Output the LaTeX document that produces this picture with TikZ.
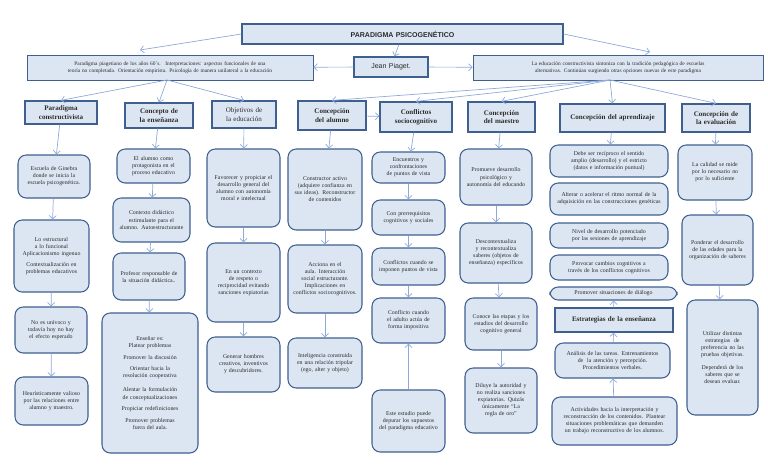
\documentclass[tikz,border=0pt]{standalone}
\usepackage{fontspec}
\usepackage[none]{hyphenat}
\setmainfont{Liberation Serif}
\setsansfont{Liberation Sans}
\usetikzlibrary{arrows.meta}
\definecolor{boxfill}{HTML}{DCE6F2}
\definecolor{boxline}{HTML}{3F5F8F}
\definecolor{arrcol}{HTML}{8EAADB}
\definecolor{txtcol}{HTML}{2B2B2B}
% box from pixel corners: name, x1, y1, x2, y2, text
\newcommand\bx[7][box]{\node[#1, minimum width={(#5-#3)*0.03cm}, minimum height={(#6-#4)*0.03cm},
  text width={(#5-#3)*0.03cm-9pt}] (#2) at ({(#3+#5)/2},{(#4+#6)/2}) {#7};}
\begin{document}
\begin{tikzpicture}[x=0.03cm, y=-0.03cm,
    box/.style={draw=boxline, line width=0.9pt, fill=boxfill, rounded corners=7pt,
      align=center, inner sep=1pt, text=txtcol, font=\fontsize{5}{6}\selectfont},
    flat/.style={box, rounded corners=0pt, line width=0.7pt, font=\fontsize{4.6}{6.4}\selectfont},
    head/.style={box, rounded corners=0pt, line width=1.1pt, font=\fontsize{6}{7.4}\selectfont\bfseries},
    arr/.style={draw=arrcol, line width=0.6pt, -{Straight Barb[length=3pt]}},
  ]
  \useasboundingbox (0,0) rectangle (768,466);

  % top row
  \bx[head]{title}{242}{24}{563}{44}{\sffamily PARADIGMA PSICOGENÉTICO}
  \bx[flat]{left}{27}{55}{313}{80}{Paradigma piagetiano de los años 60´s. \ Interpretaciones: aspectos funcionales de una teoría no completada. Orientación empirista. Psicología de manera unilateral a la educación}
  \bx[head]{piaget}{354}{57}{428}{77}{\sffamily\mdseries Jean Piaget.}
  \bx[flat]{right}{473}{55}{763}{80}{La educación constructivista sintoniza con la tradición pedagógica de escuelas alternativas. Continúan surgiendo otras opciones nuevas de este paradigma}
  \draw[arr] (title.west) -- (140,50);
  \draw[arr] (title.east) -- (650,52);
  \draw[arr] (title) -- (piaget);
  \draw[arr] (piaget) -- (left);
  \draw[arr] (piaget) -- (right);

  % headers
  \bx[head]{hpar}{25}{101}{97}{124}{Paradigma constructivista}
  \bx[head]{hcon}{125}{103}{193}{128}{Concepto de la enseñanza}
  \bx[head]{hobj}{212}{101}{276}{128}{\mdseries Objetivos de la educación}
  \bx[head]{halu}{298}{101}{366}{130}{Concepción del alumno}
  \bx[head]{hsoc}{380}{102}{452}{132}{Conflictos sociocognitivo}
  \bx[head]{hmae}{468}{102}{535}{132}{Concepción del maestro}
  \bx[head]{hapr}{560}{104}{665}{132}{Concepción del aprendizaje}
  \bx[head]{heva}{682}{104}{750}{132}{Concepción de la evaluación}
  \coordinate (lf) at (167,80);
  \coordinate (rf) at (610,80);
  \foreach \h in {hpar,hcon,hobj} \draw[arr] (lf) -- (\h.north);
  \foreach \h in {halu,hsoc,hmae,hapr,heva} \draw[arr] (rf) -- (\h.north);
  \draw[arr] (halu) -- (hsoc);

  % column 1
  \bx{a1}{18}{155}{90}{198}{Escuela de Ginebra donde se inicia la escuela psicogenética.}
  \bx{a2}{14}{220}{89}{292}{Lo estructural a lo funcional Aplicacionismo ingenuo\\[3pt]Contextualización en problemas educativos}
  \bx{a3}{15}{307}{87}{353}{No es unívoco y todavía hoy no hay el efecto esperado}
  \bx{a4}{15}{377}{88}{425}{Heurísticamente valioso por las relaciones entre alumno y maestro.}
  \draw[arr] (hpar) -- (a1);
  \draw[arr] (a1) -- (a2);
  \draw[arr] (a2) -- (a3);
  \draw[arr] (a3) -- (a4);

  % column 2
  \bx{b1}{117}{149}{190}{183}{El alumno como protagonista en el proceso educativo}
  \bx{b2}{113}{198}{190}{242}{Contexto didáctico estimulante para el alumno. Autoestructurante}
  \bx{b3}{113}{253}{185}{300}{Profesor responsable de la situación didáctica..}
  \bx{b4}{102}{313}{198}{453}{Enseñar es:\\Platear problemas\\[4pt]Promover la discusión\\[4pt]Orientar hacia la resolución cooperativa\\[6pt]Alentar la formulación de conceptualizaciones\\[4pt]Propiciar redefiniciones\\[4pt]Promover problemas fuera del aula.}
  \draw[arr] (hcon) -- (b1);
  \draw[arr] (b1) -- (b2);
  \draw[arr] (b2) -- (b3);
  \draw[arr] (b3) -- (b4);

  % column 3
  \bx{c1}{207}{149}{280}{227}{Favorecer y propiciar el desarrollo general del alumno con autonomía moral e intelectual}
  \bx{c2}{207}{243}{280}{322}{En un contexto de respeto o reciprocidad evitando sanciones expiatorias}
  \bx{c3}{207}{337}{280}{392}{Generar hombres creativos, inventivos y descubridores.}
  \draw[arr] (hobj) -- (c1);
  \draw[arr] (c1) -- (c2);
  \draw[arr] (c2) -- (c3);

  % column 4
  \bx{d1}{288}{149}{362}{230}{Constructor activo (adquiere confianza en sus ideas). Reconstructor de contenidos}
  \bx{d2}{288}{245}{362}{313}{Acciona en el aula. Interacción social estructurante. Implicaciones en conflictos sociocognitivos.}
  \bx{d3}{288}{338}{362}{388}{Inteligencia construida en una relación tripolar (ego, alter y objeto)}
  \draw[arr] (halu) -- (d1);
  \draw[arr] (d1) -- (d2);
  \draw[arr] (d2) -- (d3);

  % column 5
  \bx{e1}{372}{152}{445}{183}{Encuentros y confrontaciones de puntos de vista}
  \bx{e2}{372}{200}{445}{235}{Con prerrequisitos cognitivos y sociales}
  \bx{e3}{372}{248}{445}{285}{Conflictos cuando se imponen puntos de vista}
  \bx{e4}{372}{298}{445}{343}{Conflicto cuando el adulto actúa de forma impositiva}
  \bx{e5}{372}{390}{445}{452}{Este estudio puede depurar los supuestos del paradigma educativo}
  \draw[arr] (hsoc) -- (e1);
  \draw[arr] (e1) -- (e2);
  \draw[arr] (e2) -- (e3);
  \draw[arr] (e3) -- (e4);
  \draw[arr] (e5) -- (e4);

  % column 6
  \bx{f1}{460}{149}{532}{205}{Promueve desarrollo psicológico y autonomía del educando}
  \bx{f2}{460}{223}{532}{283}{Descontextualiza y recontextualiza saberes (objetos de enseñanza) específicos}
  \bx{f3}{465}{298}{537}{350}{Conoce las etapas y los estadios del desarrollo cognitivo general}
  \bx{f4}{465}{368}{537}{433}{Diluye la autoridad y no realiza sanciones expiatorias. Quizás únicamente ``La regla de oro''}
  \draw[arr] (hmae) -- (f1);
  \draw[arr] (f1) -- (f2);
  \draw[arr] (f2) -- (f3);
  \draw[arr] (f3) -- (f4);

  % column 7
  \bx{g1}{550}{145}{668}{177}{Debe ser recíproco el sentido amplio (desarrollo) y el estricto (datos e información puntual)}
  \bx{g2}{550}{183}{668}{215}{Alterar o acelerar el ritmo normal de la adquisición en las construcciones genéticas}
  \bx{g3}{550}{223}{668}{248}{Nivel de desarrollo potenciado por las sesiones de aprendizaje}
  \bx{g4}{550}{255}{668}{280}{Provocar cambios cognitivos a través de los conflictos cognitivos}
  \bx{g5}{550}{287}{677}{300}{Promover situaciones de diálogo}
  \bx[head]{hest}{555}{308}{673}{332}{Estrategias de la enseñanza}
  \bx{g6}{555}{343}{670}{378}{Análisis de las tareas. Entrenamientos de \ la atención y percepción. Procedimientos verbales.}
  \bx{g7}{552}{397}{677}{445}{Actividades hacia la interpretación y reconstrucción de los contenidos. Plantear situaciones problemáticas que demanden un trabajo reconstructivo de los alumnos.}
  \draw[arr] (hapr) -- (g1);
  \draw[arr] (hest) -- (g5);
  \draw[arr] (g6) -- (hest);
  \draw[arr] (g7) -- (g6);

  % column 8
  \bx{h1}{678}{145}{752}{200}{La calidad se mide por lo necesario no por lo suficiente}
  \bx{h2}{682}{215}{753}{285}{Ponderar el desarrollo de las edades para la organización de saberes}
  \bx{h3}{687}{300}{758}{415}{Utilizar distintas estrategias \ de preferencia no las pruebas objetivas.\\[5pt]Dependerá de los saberes que se desean evaluar.}
  \draw[arr] (heva) -- (h1);
  \draw[arr] (h1) -- (h2);
  \draw[arr] (h2) -- (h3);
\end{tikzpicture}
\end{document}
